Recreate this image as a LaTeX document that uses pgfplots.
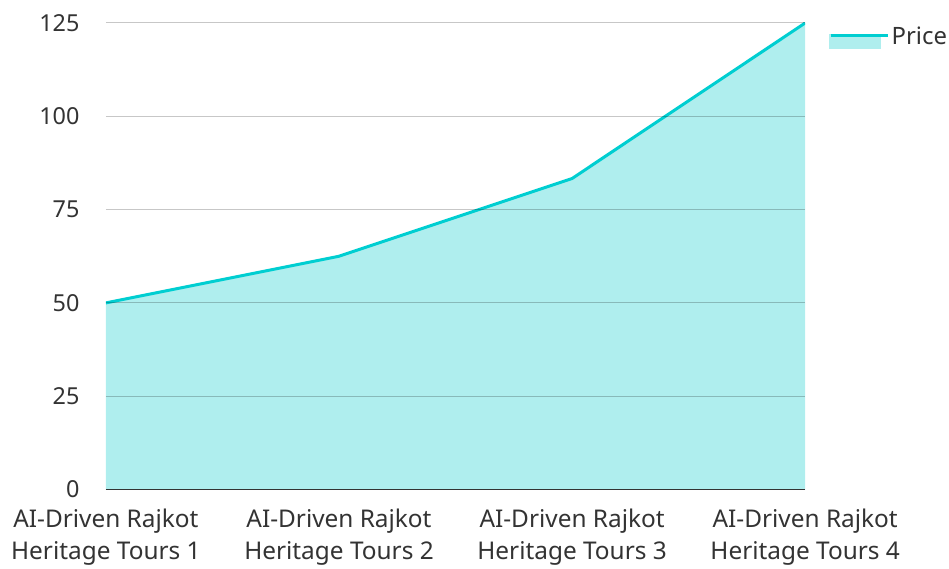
\documentclass[border=0pt]{standalone}
\usepackage{pgfplots}
\pgfplotsset{compat=1.18}
\usepackage{fontspec}
\setmainfont{Noto Sans}
\definecolor{linec}{HTML}{00CED1}
\definecolor{fillc}{HTML}{AFEEEE}
\definecolor{txt}{HTML}{333333}
\begin{document}
\begin{tikzpicture}
\begin{axis}[
  name=ax,
  scale only axis,
  width=700bp, height=467bp,
  xmin=0, xmax=3, ymin=0, ymax=125,
  xtick={0,1,2,3},
  xticklabels={{AI-Driven Rajkot\\Heritage Tours 1},{AI-Driven Rajkot\\Heritage Tours 2},{AI-Driven Rajkot\\Heritage Tours 3},{AI-Driven Rajkot\\Heritage Tours 4}},
  xticklabel style={align=center, font=\fontsize{24.5}{32}\selectfont, text=txt, yshift=-16bp},
  ytick={0,25,50,75,100,125},
  yticklabel style={font=\fontsize{23.5}{28}\selectfont, text=txt, xshift=-23bp},
  /pgf/number format/assume math mode=true,
  major tick length=0pt,
  axis x line*=bottom,
  axis y line*=left,
  y axis line style={draw=none},
  x axis line style={draw=txt, line width=1.5bp, -},
  ymajorgrids,
  grid style={black, opacity=0.22, line width=1bp},
  axis on top,
  legend style={draw=none, fill=none, at={(rel axis cs:1.034,0.97)}, anchor=west, font=\fontsize{24}{28}\selectfont, text=txt, inner sep=0pt, cells={anchor=west}},
  legend cell align=left,
]
\addplot[draw=none, fill=fillc, forget plot]
  coordinates {(0,50) (1,62.5) (2,83.33) (3,125)} \closedcycle;
\addplot[draw=linec, line width=3bp,
  legend image code/.code={
    \fill[fillc] (0bp,-12bp) rectangle (49bp,0bp);
    \draw[linec, line width=3bp] (0bp,0bp) -- (49bp,0bp);
    \path (0bp,0bp) -- (57.5bp,0bp);
  }]
  coordinates {(0,50) (1,62.5) (2,83.33) (3,125)};
\addlegendentry{Price}
\end{axis}
\path[use as bounding box] ([xshift=-106bp,yshift=23bp]ax.north west) rectangle ([xshift=143bp,yshift=-74bp]ax.south east);
\end{tikzpicture}
\end{document}
